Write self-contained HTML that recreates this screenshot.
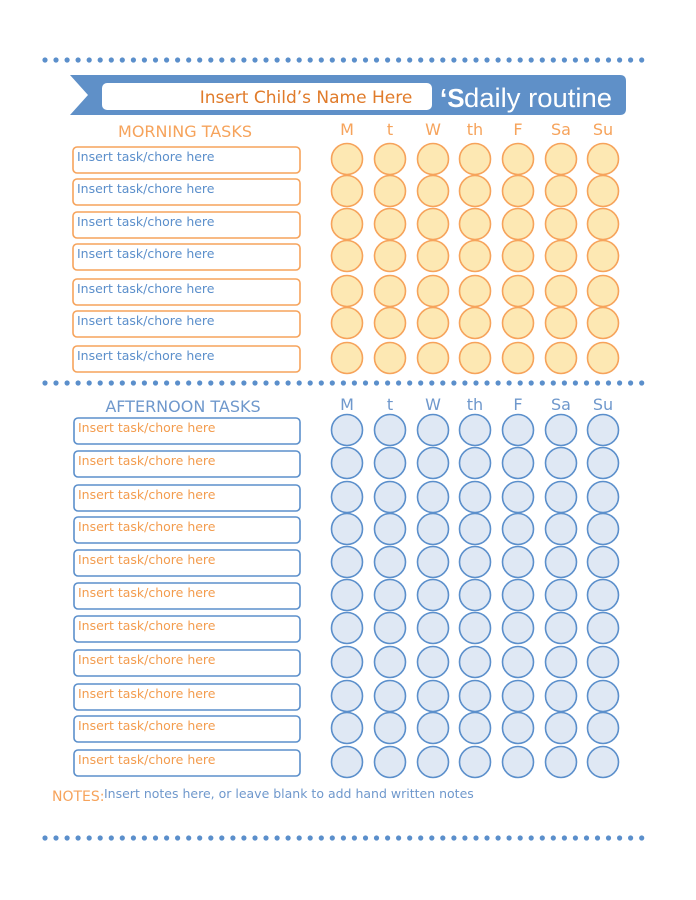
<!DOCTYPE html>
<html><head><meta charset="utf-8"><style>
html,body{margin:0;padding:0;background:#fff;}
svg{display:block;font-family:"DejaVu Sans","Liberation Sans",sans-serif;}
</style></head><body>
<svg id="s" width="696" height="900" viewBox="0 0 696 900" xmlns="http://www.w3.org/2000/svg">
<path d="M70 75 H620 Q626 75 626 81 V109 Q626 115 620 115 H70 L88 95 Z" fill="#5f90c8"/>
<rect x="102" y="83" width="330" height="27" rx="5" fill="#fff"/>
<text x="306" y="103" font-size="17" fill="#e07b2a" text-anchor="middle">Insert Child’s Name Here</text>
<text x="440" y="107" font-size="26" fill="#fff" font-weight="bold" font-family="Liberation Sans Narrow, Liberation Sans, sans-serif">‘S</text>
<text x="464" y="107" font-size="27" fill="#fff" font-family="Liberation Sans Narrow, Liberation Sans, sans-serif" textLength="148" lengthAdjust="spacingAndGlyphs">daily routine</text>
<text x="185" y="137" font-size="16" fill="#f6a35b" text-anchor="middle">MORNING TASKS</text>
<text x="183" y="412" font-size="16" fill="#6f98cc" text-anchor="middle">AFTERNOON TASKS</text>
<text x="52" y="801" font-size="14" fill="#f6a35b">NOTES:</text>
<text x="104" y="798" font-size="12.5" fill="#6f98cc">Insert notes here, or leave blank to add hand written notes</text>
<g id="g"></g>
</svg>
<script>
var g=document.getElementById('g'),h='';
[60,383,838].forEach(function(y){for(var x=45;x<=642;x+=11.05){h+='<circle cx="'+x.toFixed(1)+'" cy="'+y+'" r="2.6" fill="#5b8fcb"/>';}});
var xs=[347,390,433,475,518,561,603],days=['M','t','W','th','F','Sa','Su'];
days.forEach(function(d,i){
h+='<text x="'+xs[i]+'" y="135" font-size="16" fill="#f6a35b" text-anchor="middle">'+d+'</text>';
h+='<text x="'+xs[i]+'" y="410" font-size="16" fill="#6f98cc" text-anchor="middle">'+d+'</text>';});
var m=[147,179,212,244,279,311,346];
m.forEach(function(t){
h+='<rect x="73" y="'+t+'" width="227" height="26" rx="4" fill="#fff" stroke="#f6a35b" stroke-width="1.6"/>';
h+='<text x="77" y="'+(t+14)+'" font-size="12.5" fill="#5b8fcb">Insert task/chore here</text>';
xs.forEach(function(x){h+='<circle cx="'+x+'" cy="'+(t+12)+'" r="15.5" fill="#fde8b3" stroke="#f6a35b" stroke-width="1.6"/>';});});
var a=[418,451,485,517,550,583,616,650,684,716,750];
a.forEach(function(t){
h+='<rect x="74" y="'+t+'" width="226" height="26" rx="4" fill="#fff" stroke="#5b8fcb" stroke-width="1.6"/>';
h+='<text x="78" y="'+(t+14)+'" font-size="12.5" fill="#f39c4e">Insert task/chore here</text>';
xs.forEach(function(x){h+='<circle cx="'+x+'" cy="'+(t+12)+'" r="15.5" fill="#dfe8f4" stroke="#5b8fcb" stroke-width="1.6"/>';});});
g.innerHTML=h;
</script>
</body></html>
